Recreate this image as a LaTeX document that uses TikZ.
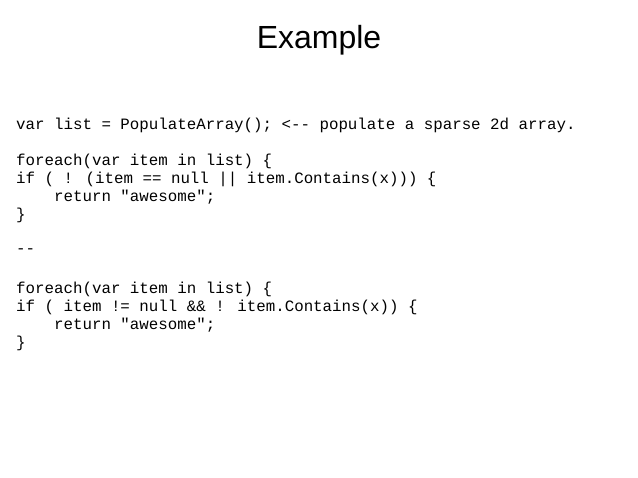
\documentclass[tikz,border=0pt]{standalone}
\usepackage{fontspec}
\setmainfont{Liberation Sans}
\newfontfamily\codefont{Liberation Mono}
\begin{document}
\begin{tikzpicture}[x=1pt,y=-1pt,code/.style={anchor=west,inner sep=0pt,font=\codefont\fontsize{15.8}{18}\selectfont}]
\useasboundingbox (0,0) rectangle (638,478);
\node[font=\fontsize{32}{36}\selectfont,inner sep=0pt] (title) at (319,40) {Example};
\node[code] (l1) at (16,125) {var list = PopulateArray(); <-{}- populate a sparse 2d array.};
\node[code] (l2) at (16,161) {foreach(var item in list) \{};
\node[code] (l3) at (16,179) {if ( ! (item == null || item.Contains(x))) \{};
\node[code] (l4) at (16,197) {\ \ \ \ return "awesome";};
\node[code] (l5) at (16,215) {\}};
\node[code] (l6) at (16,251) {-{}-};
\node[code] (l7) at (16,289) {foreach(var item in list) \{};
\node[code] (l8) at (16,307) {if ( item != null \&\& ! item.Contains(x)) \{};
\node[code] (l9) at (16,325) {\ \ \ \ return "awesome";};
\node[code] (l10) at (16,343) {\}};
\end{tikzpicture}
\end{document}
